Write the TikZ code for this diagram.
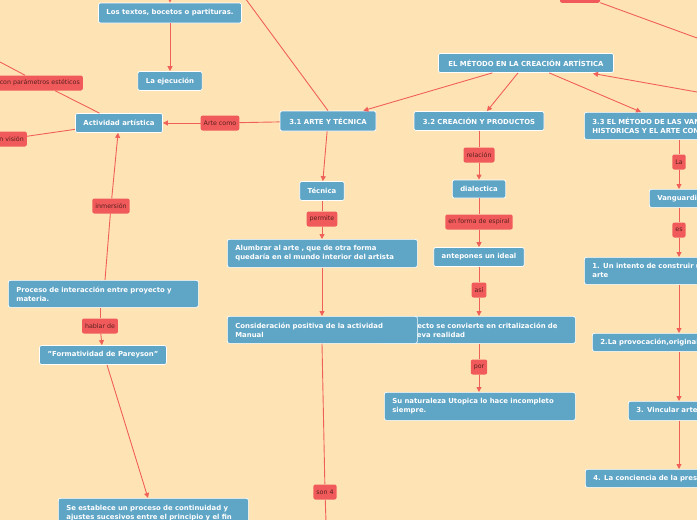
\documentclass[tikz,border=0pt]{standalone}
\usepackage{fontspec}
\setmainfont{DejaVu Sans}
\usetikzlibrary{arrows.meta}
\definecolor{bg}{HTML}{FEE4B4}
\definecolor{boxc}{HTML}{5FA5C6}
\definecolor{lblc}{HTML}{F05A5A}
\definecolor{lbltx}{HTML}{5A2020}
\definecolor{linec}{HTML}{F0605A}
\tikzset{
  box/.style={rounded corners=2pt, fill=boxc, draw=white, line width=0.7pt, inner xsep=8pt, inner ysep=2pt, text=white, font=\fontsize{6.9}{9}\selectfont\bfseries, align=left},
  cbox/.style={box, align=center},
  lbl/.style={rounded corners=2pt, fill=lblc, inner xsep=3pt, inner ysep=0pt, minimum height=15pt, text=lbltx, font=\fontsize{6.3}{7}\selectfont},
  conn/.style={draw=linec, line width=0.9pt},
  arr/.style={conn, -{Triangle[length=5pt,width=5pt]}}
}
\begin{document}
\begin{tikzpicture}[x=1pt,y=-1pt]
\fill[bg] (0,0) rectangle (697,520);
\useasboundingbox (0,0) rectangle (697,520);
\clip (0,0) rectangle (697,520);
% free ends
\coordinate (t1) at (170,-2);
\coordinate (t2) at (245,-2);
\coordinate (t3) at (0,62);
\coordinate (t4) at (697,92);
\coordinate (t5) at (697,38);
\coordinate (t6) at (326,522);
% boxes
\node[cbox, minimum width=142pt, minimum height=20pt] (textos) at (170,13) {Los textos, bocetos o partituras.};
\node[cbox, minimum width=64pt, minimum height=19pt] (ejec) at (170,81) {La ejecución};
\node[cbox, minimum width=86pt, minimum height=19pt] (activ) at (119,123) {Actividad artística};
\node[cbox, minimum width=96pt, minimum height=20pt] (a31) at (328,121) {3.1 ARTE Y TÉCNICA};
\node[cbox, minimum width=175pt, minimum height=19pt] (metodo) at (526,63) {EL MÉTODO EN LA CREACIÓN ARTÍSTICA};
\node[cbox, minimum width=130pt, minimum height=19pt] (a32) at (479,121) {3.2 CREACIÓN Y PRODUCTOS};
\node[box, anchor=north west, text width=230pt, minimum height=27pt] (a33) at (584,112) {3.3 EL MÉTODO DE LAS VANGUARDIAS\\HISTORICAS Y EL ARTE CONTEMPORÁNEO};
\node[box, anchor=north west, text width=70pt, minimum height=18pt] (vang) at (649,189) {Vanguardias};
\node[box, anchor=north west, text width=180pt, minimum height=27pt] (v1) at (584,257) {1. Un intento de construir un nuevo\\arte};
\node[box, anchor=north west, text width=180pt, minimum height=18pt] (v2) at (592,333) {2.La provocación,originalidad};
\node[box, anchor=north west, text width=120pt, minimum height=19pt] (v3) at (628,401) {3. Vincular arte y vida};
\node[box, anchor=north west, text width=180pt, minimum height=18pt] (v4) at (585,469) {4. La conciencia de la presencia};
\node[cbox, minimum width=52pt, minimum height=18pt] (dial) at (479,189) {dialectica};
\node[cbox, minimum width=90pt, minimum height=19pt] (antep) at (479,257) {antepones un ideal};
\node[box, anchor=north west, text width=177pt, minimum height=27pt] (proy) at (382,316) {El proyecto se convierte en critalización de\\una nueva realidad};
\node[box, anchor=north west, text width=175pt, minimum height=28pt] (utop) at (384,392) {Su naturaleza Utopica lo hace incompleto\\siempre.};
\node[cbox, minimum width=44pt, minimum height=19pt] (tecn) at (322,191) {Técnica};
\node[box, anchor=north west, text width=174pt, minimum height=28pt] (alum) at (227,239) {Alumbrar al arte , que de otra forma\\quedaría en el mundo interior del artista};
\node[box, anchor=north west, text width=174pt, minimum height=27pt] (consid) at (227,316) {Consideración positiva de la actividad\\Manual};
\node[box, anchor=north west, text width=174pt, minimum height=27pt] (proc) at (8,280) {Proceso de interacción entre proyecto y\\materia.};
\node[cbox, minimum width=126pt, minimum height=19pt] (form) at (103,355) {"Formatividad de Pareyson"};
\node[box, anchor=north west, text width=174pt, minimum height=30pt] (estab) at (58,498) {Se establece un proceso de continuidad y\\ajustes sucesivos entre el principio y el fin};
% labels
\node[lbl, anchor=east] (lparam) at (83,83) {con parámetros estéticos};
\node[lbl, anchor=east] (lvision) at (27,139) {con visión};
\node[lbl] (larte) at (220,123) {Arte como};
\node[lbl] (lrel) at (479,155) {relación};
\node[lbl] (lesp) at (479,222) {en forma de espiral};
\node[lbl] (lasi) at (479,290) {así};
\node[lbl] (lpor) at (479,367) {por};
\node[lbl] (lla) at (679,162) {La};
\node[lbl] (les) at (679,230) {es};
\node[lbl] (lperm) at (322,219) {permite};
\node[lbl] (lson) at (325,492) {son 4};
\node[lbl] (linm) at (111,206) {inmersión};
\node[lbl] (lhab) at (100,326) {hablar de};
\node[lbl, minimum width=40pt, anchor=south] (ltop) at (580,3) {};
% connectors
\draw[arr] (t1) -- (textos);
\draw[arr] (textos) -- (ejec);
\draw[conn] (t2) -- (a31.north);
\draw[conn] (t3) -- (lparam);
\draw[conn] (lparam) -- (activ);
\draw[conn] (lvision) -- (activ);
\draw[conn] (a31) -- (larte);
\draw[arr] (larte) -- (activ);
\draw[arr] (metodo) -- (a31);
\draw[arr] (metodo) -- (a32);
\draw[arr] (metodo) -- (641,112);
\draw[arr] (t4) -- (593,73.5);
\draw[conn] (ltop) -- (t5);
\draw[conn] (a32) -- (lrel);
\draw[arr] (lrel) -- (dial);
\draw[conn] (dial) -- (lesp);
\draw[arr] (lesp) -- (antep);
\draw[conn] (antep) -- (lasi);
\draw[arr] (lasi) -- (proy.north -| 479,316);
\draw[conn] (proy.south -| 479,343) -- (lpor);
\draw[arr] (lpor) -- (utop.north -| 479,392);
\draw[conn] (a33.south -| 679,139) -- (lla);
\draw[arr] (lla) -- (vang.north -| 679,189);
\draw[conn] (vang.south -| 679,207) -- (les);
\draw[arr] (les) -- (v1.north -| 679,257);
\draw[arr] (v1.south -| 679,284) -- (v2.north -| 679,333);
\draw[arr] (v2.south -| 679,351) -- (v3.north -| 679,401);
\draw[arr] (v3.south -| 679,420) -- (v4.north -| 679,469);
\draw[arr] (a31) -- (tecn);
\draw[conn] (tecn) -- (lperm);
\draw[arr] (lperm) -- (alum.north -| 322,239);
\draw[arr] (alum.south -| 322,267) -- (consid.north -| 322,316);
\draw[conn] (consid.south -| 322,343) -- (lson);
\draw[conn] (lson) -- (t6);
\draw[conn] (proc.north -| 105,280) -- (linm);
\draw[arr] (linm) -- (activ);
\draw[conn] (proc.south -| 100,307) -- (lhab);
\draw[arr] (lhab) -- (form);
\draw[arr] (form.south -| 107,365) -- (estab.north -| 148,498);
\end{tikzpicture}
\end{document}
